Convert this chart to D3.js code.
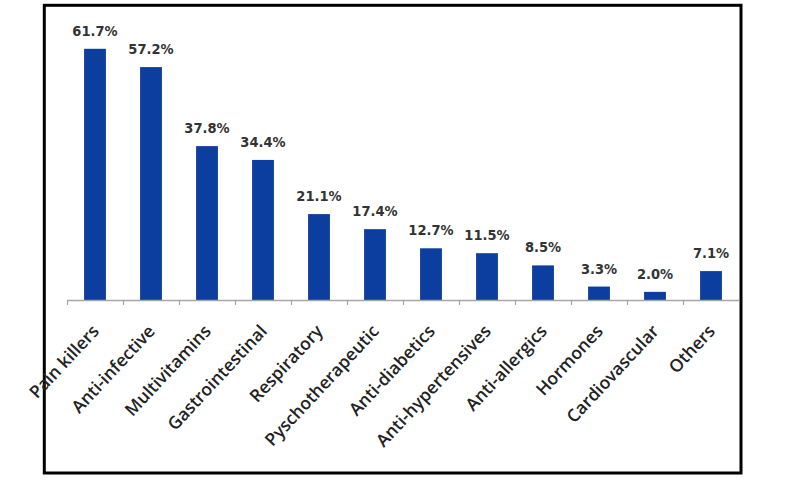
<!DOCTYPE html>
<html><head><meta charset="utf-8">
<script src="https://cdn.jsdelivr.net/npm/d3@7"></script>
<style>body{margin:0;background:#fff}svg{display:block}</style>
</head><body>
<svg id="c" width="800" height="480"></svg>
<script>
const categories = ["Pain killers","Anti-infective","Multivitamins","Gastrointestinal","Respiratory","Pyschotherapeutic","Anti-diabetics","Anti-hypertensives","Anti-allergics","Hormones","Cardiovascular","Others"];
const values = [61.7,57.2,37.8,34.4,21.1,17.4,12.7,11.5,8.5,3.3,2.0,7.1];
const valueLabels = ["61.7%","57.2%","37.8%","34.4%","21.1%","17.4%","12.7%","11.5%","8.5%","3.3%","2.0%","7.1%"];

const svg = d3.select("#c");
svg.append("rect").attr("x",44.3).attr("y",5.3).attr("width",696.7).attr("height",467.7)
  .attr("fill","none").attr("stroke","#000").attr("stroke-width",3);

const x = d3.scaleBand().domain(categories).range([67,739]).paddingInner(0.61).paddingOuter(0.305);
const y = d3.scaleLinear().domain([0,70]).range([300,15]);
const xb = d3.scaleBand().domain(categories).range([67,739]);

svg.selectAll("rect.bar").data(values).enter().append("rect").attr("class","bar")
  .attr("x",(d,i)=>x(categories[i])).attr("width",x.bandwidth())
  .attr("y",d=>y(d)).attr("height",d=>y(0)-y(d)).attr("fill","#0b3e9f");

svg.append("line").attr("x1",67).attr("x2",739).attr("y1",y(0)+0.5).attr("y2",y(0)+0.5)
  .attr("stroke","#a6a6a6").attr("stroke-width",1.3);
svg.selectAll("line.tk").data(categories).enter().append("line").attr("class","tk")
  .attr("x1",d=>xb(d)+0.5).attr("x2",d=>xb(d)+0.5).attr("y1",y(0)).attr("y2",y(0)+5)
  .attr("stroke","#a6a6a6").attr("stroke-width",1.2);

svg.selectAll("text.v").data(values).enter().append("text").attr("class","v")
  .attr("x",(d,i)=>xb(categories[i])+xb.bandwidth()/2).attr("y",d=>y(d)-13)
  .attr("text-anchor","middle").attr("font-family","DejaVu Sans Condensed, DejaVu Sans").attr("font-weight","bold")
  .attr("font-size",14.5).attr("fill","#333").text((d,i)=>valueLabels[i]);

svg.selectAll("text.c").data(categories).enter().append("text").attr("class","c")
  .attr("transform",d=>`translate(${xb(d)+xb.bandwidth()/2+5},${y(0)+32}) rotate(-47)`)
  .attr("text-anchor","end").attr("font-family","Open Sans").attr("font-weight",600).attr("font-size",17.5)
  .attr("fill","#222").text(d=>d);
</script>
</body></html>
